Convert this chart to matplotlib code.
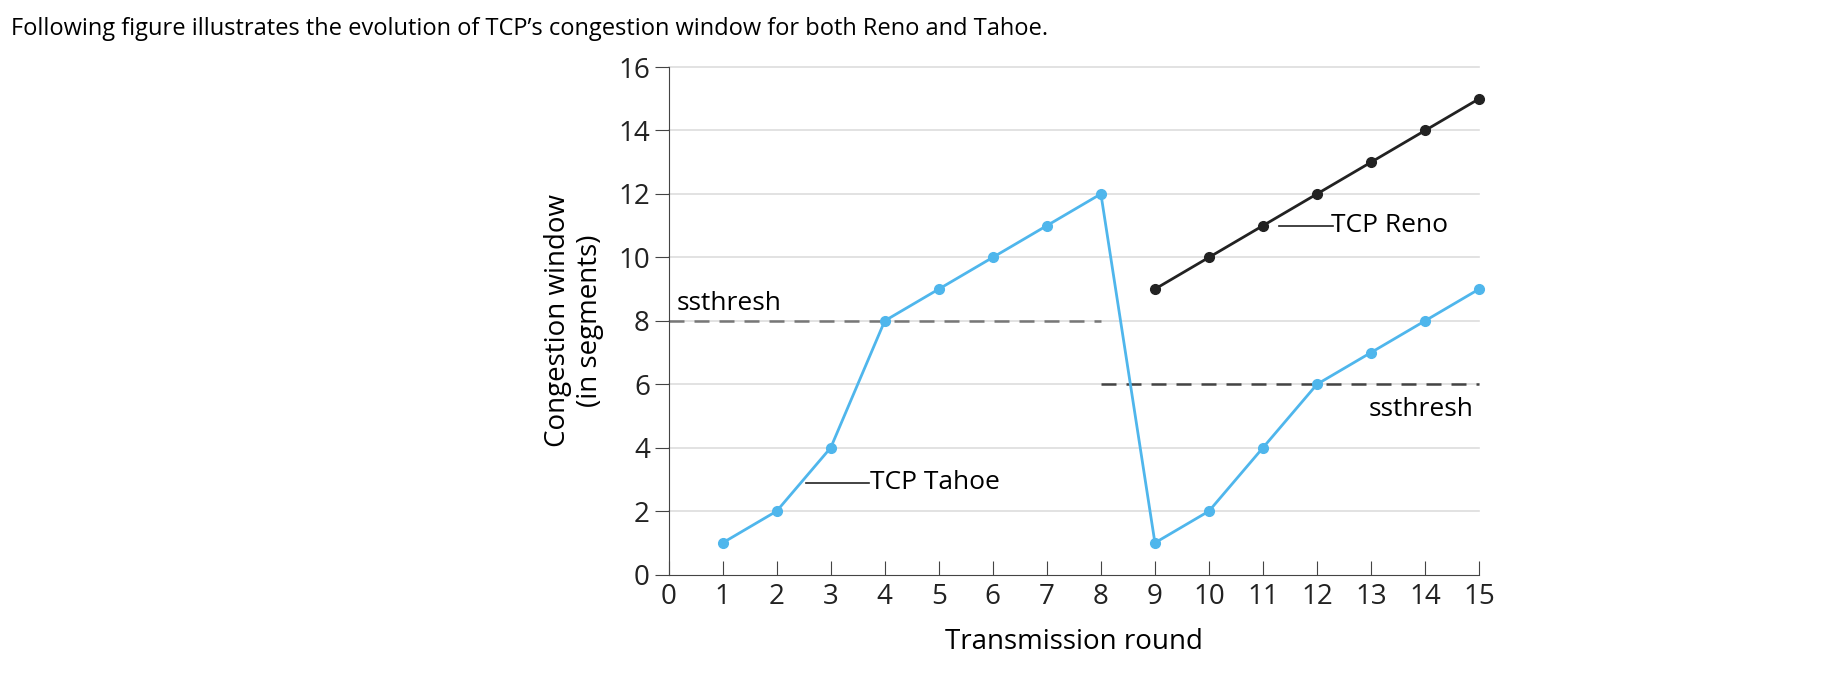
import matplotlib
matplotlib.use("Agg")
import matplotlib.pyplot as plt

rounds_tahoe = list(range(1, 16))
cwnd_tahoe = [1, 2, 4, 8, 9, 10, 11, 12, 1, 2, 4, 6, 7, 8, 9]
rounds_reno = list(range(9, 16))
cwnd_reno = [9, 10, 11, 12, 13, 14, 15]
yticks = [0, 2, 4, 6, 8, 10, 12, 14, 16]
xticks = list(range(0, 16))

plt.rcParams['font.family'] = ['Open Sans', 'DejaVu Sans']
fig = plt.figure(figsize=(18.42, 6.84), dpi=100)
fig.text(0.006, 0.958, "Following figure illustrates the evolution of TCP\u2019s congestion window for both Reno and Tahoe.",
         fontsize=17, va='center', ha='left')
ax = fig.add_axes([0.363, 0.16, 0.44, 0.742])
blue = '#4fb6ec'
for y in yticks[1:]:
    ax.axhline(y, color='#dddddd', lw=1.2, zorder=0)
ax.plot(rounds_tahoe, cwnd_tahoe, color=blue, lw=2, marker='o', ms=7, zorder=3)
ax.plot(rounds_reno, cwnd_reno, color='#222222', lw=2, marker='o', ms=7, zorder=3)
ax.plot([0, 8], [8, 8], color='#777777', ls=(0, (6, 4)), lw=1.8, zorder=2)
ax.plot([8, 15], [6, 6], color='#444444', ls=(0, (6, 4)), lw=1.8, zorder=2)
ax.text(0.15, 8.15, 'ssthresh', fontsize=19, va='bottom')
ax.text(14.9, 5.6, 'ssthresh', fontsize=19, va='top', ha='right')
ax.plot([2.55, 3.7], [2.9, 2.9], color='#222222', lw=1.2)
ax.text(3.72, 2.9, 'TCP Tahoe', fontsize=19, va='center')
ax.plot([11.3, 12.3], [11.0, 11.0], color='#222222', lw=1.2)
ax.text(12.25, 11.0, 'TCP Reno', fontsize=19, va='center')
ax.set_xlim(0, 15)
ax.set_ylim(0, 16)
ax.set_yticks(yticks)
ax.set_xticks(xticks)
for s in ['top', 'right']:
    ax.spines[s].set_visible(False)
ax.spines['left'].set_color('#444444')
ax.spines['bottom'].set_color('#444444')
ax.tick_params(axis='y', direction='out', length=10, labelsize=20, colors='#444444', labelcolor='#222222')
ax.tick_params(axis='x', direction='in', length=10, labelsize=20, colors='#444444', labelcolor='#222222', pad=6)
ax.set_xlabel('Transmission round', fontsize=20, labelpad=12)
ax.set_ylabel('Congestion window\n(in segments)', fontsize=20, labelpad=10)
for l in ax.lines:
    l.set_clip_on(False)
fig.savefig('out.png')
